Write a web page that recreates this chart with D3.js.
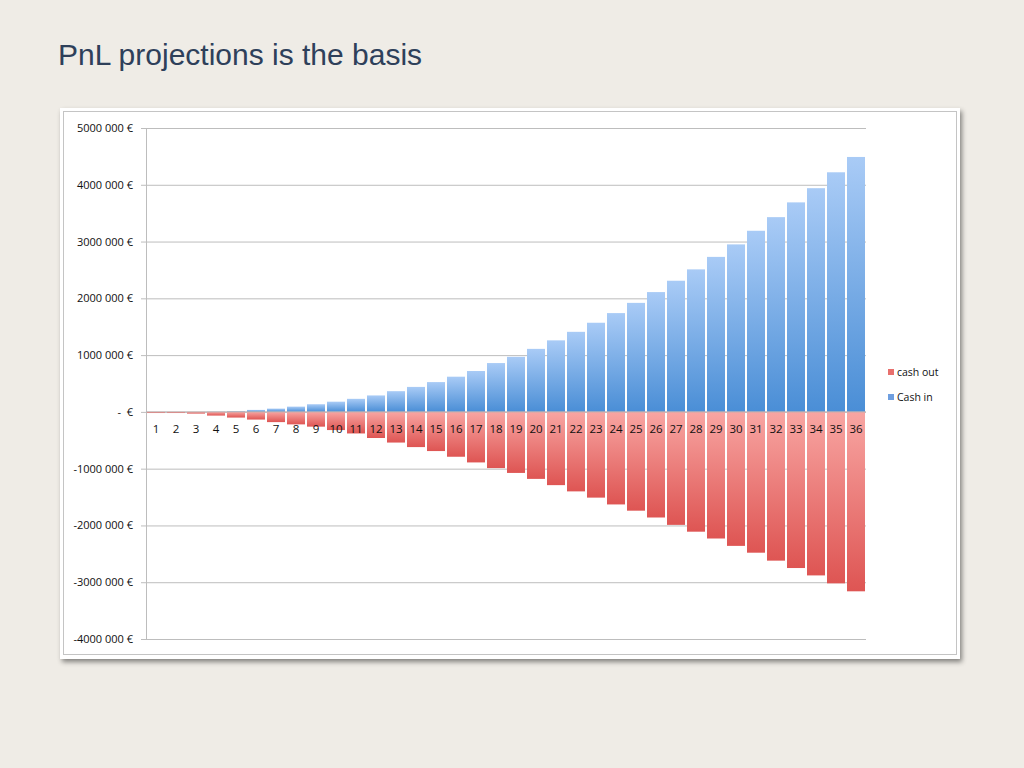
<!DOCTYPE html>
<html>
<head>
<meta charset="utf-8">
<script src="https://cdn.jsdelivr.net/npm/d3@7"></script>
<style>
  html, body { margin: 0; padding: 0; }
  body { width: 1024px; height: 768px; overflow: hidden; background: #efece6; }
</style>
</head>
<body>
<svg id="chart" width="1024" height="768"></svg>
<script>
const periods = d3.range(1, 37).map(String);
const cashIn = [0, 0, 0, 0.005, 0.012, 0.035, 0.058, 0.093, 0.135, 0.18, 0.23, 0.29,
  0.365, 0.44, 0.525, 0.62, 0.72, 0.86, 0.97, 1.11, 1.26, 1.41, 1.57, 1.74,
  1.92, 2.11, 2.31, 2.51, 2.73, 2.95, 3.19, 3.43, 3.69, 3.94, 4.22, 4.49].map(v => v * 1e6);
const cashOut = [-0.02, -0.02, -0.03, -0.065, -0.1, -0.135, -0.18, -0.22, -0.26, -0.32, -0.38, -0.46,
  -0.54, -0.62, -0.69, -0.79, -0.89, -0.99, -1.075, -1.18, -1.29, -1.40, -1.51, -1.63,
  -1.74, -1.86, -1.99, -2.11, -2.23, -2.36, -2.48, -2.62, -2.75, -2.88, -3.02, -3.16].map(v => v * 1e6);
const yTicks = [5e6, 4e6, 3e6, 2e6, 1e6, 0, -1e6, -2e6, -3e6, -4e6];
const yTickLabels = ["5000 000 €", "4000 000 €", "3000 000 €", "2000 000 €", "1000 000 €", "-\u00a0\u00a0€",
  "-1000 000 €", "-2000 000 €", "-3000 000 €", "-4000 000 €"];
const seriesNames = ["cash out", "Cash in"];
const title = "PnL projections is the basis";

const svg = d3.select("#chart");
const defs = svg.append("defs");

svg.append("rect").attr("width", 1024).attr("height", 768).attr("fill", "#efece6");

// title
svg.append("text").attr("x", 58).attr("y", 65)
  .attr("font-family", "Liberation Sans, Arial, sans-serif")
  .attr("font-size", 30).attr("fill", "#2e405a").text(title);

// panel shadow
const sh = defs.append("filter").attr("id", "shadow").attr("x", "-5%").attr("y", "-5%").attr("width", "110%").attr("height", "112%");
sh.append("feDropShadow").attr("dx", 2).attr("dy", 3).attr("stdDeviation", 2.5).attr("flood-color", "#000").attr("flood-opacity", 0.45);
svg.append("rect").attr("x", 60).attr("y", 108).attr("width", 900).attr("height", 551)
  .attr("fill", "#ffffff").attr("filter", "url(#shadow)");
svg.append("rect").attr("x", 63.5).attr("y", 111.5).attr("width", 893).attr("height", 543)
  .attr("fill", "none").attr("stroke", "#c4c4c4").attr("stroke-width", 1);

// gradients
const gBlue = defs.append("linearGradient").attr("id", "gBlue").attr("x1", 0).attr("y1", 0).attr("x2", 0).attr("y2", 1);
gBlue.append("stop").attr("offset", "0%").attr("stop-color", "#a9cbf6");
gBlue.append("stop").attr("offset", "100%").attr("stop-color", "#4a8ed6");
const gRed = defs.append("linearGradient").attr("id", "gRed").attr("x1", 0).attr("y1", 0).attr("x2", 0).attr("y2", 1);
gRed.append("stop").attr("offset", "0%").attr("stop-color", "#f8a5a2");
gRed.append("stop").attr("offset", "100%").attr("stop-color", "#de5553");

// scales
const x = d3.scaleBand().domain(periods).range([146, 866]).paddingInner(0.1).paddingOuter(0.05);
const y = d3.scaleLinear().domain([-4e6, 5e6]).range([639, 128]);

// gridlines
const grid = svg.append("g").attr("transform", "translate(146,0)")
  .call(d3.axisLeft(y).tickValues(yTicks).tickSize(-(866 - 146)).tickFormat(""));
grid.select(".domain").remove();
grid.selectAll("line").attr("stroke", "#bdbdbd").attr("stroke-width", 1);

// y axis
const yAxis = svg.append("g").attr("transform", "translate(146,0)")
  .call(d3.axisLeft(y).tickValues(yTicks).tickSize(5).tickPadding(8)
    .tickFormat((d, i) => yTickLabels[i]));
yAxis.select(".domain").attr("stroke", "#bdbdbd");
yAxis.selectAll("line").attr("stroke", "#bdbdbd");
yAxis.selectAll("text").attr("font-family", "Open Sans, DejaVu Sans, sans-serif")
  .attr("font-size", 11).attr("fill", "#111");

// bars
svg.append("g").selectAll("rect").data(periods).join("rect")
  .attr("x", d => x(d)).attr("width", x.bandwidth())
  .attr("y", (d, i) => y(cashIn[i])).attr("height", (d, i) => Math.max(0, y(0) - y(cashIn[i])))
  .attr("fill", "url(#gBlue)");
svg.append("g").selectAll("rect").data(periods).join("rect")
  .attr("x", d => x(d)).attr("width", x.bandwidth())
  .attr("y", y(0)).attr("height", (d, i) => Math.max(0, y(cashOut[i]) - y(0)))
  .attr("fill", "url(#gRed)");

// zero line
svg.append("line").attr("x1", 146).attr("x2", 866).attr("y1", y(0)).attr("y2", y(0))
  .attr("stroke", "#b9b0b0").attr("stroke-width", 1);

// x labels
const xAxis = svg.append("g").attr("transform", `translate(0,${y(0)})`)
  .call(d3.axisBottom(x).tickSize(0).tickPadding(13));
xAxis.select(".domain").remove();
xAxis.selectAll("text").attr("font-family", "Open Sans, DejaVu Sans, sans-serif")
  .attr("font-size", 11.5).attr("fill", "#111");

// legend
const legend = svg.append("g").attr("transform", "translate(888,369)");
const lColors = ["#e8706d", "#6f9fe0"];
seriesNames.forEach((name, i) => {
  const g = legend.append("g").attr("transform", `translate(0,${i * 25})`);
  g.append("rect").attr("x", 0).attr("y", 0).attr("width", 6).attr("height", 6).attr("fill", lColors[i]);
  g.append("text").attr("x", 9).attr("y", 7).attr("font-family", "Open Sans, DejaVu Sans, sans-serif")
    .attr("font-size", 10.5).attr("fill", "#111").text(name);
});
</script>
</body>
</html>
